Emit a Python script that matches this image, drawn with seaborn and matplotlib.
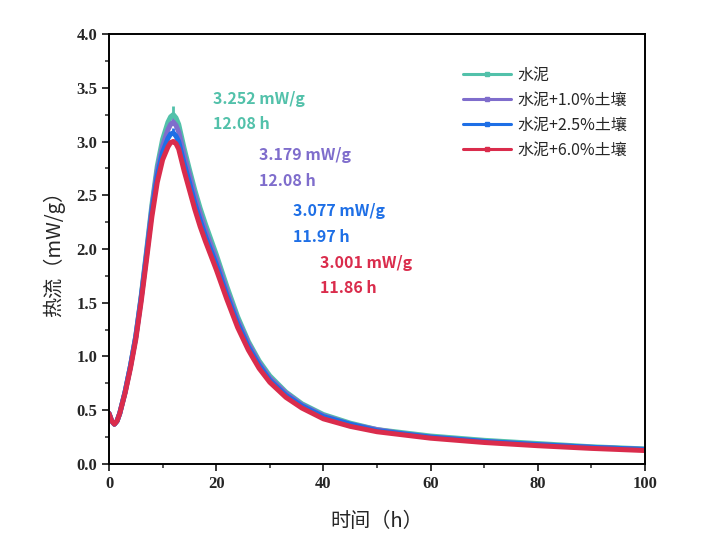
import numpy as np
import pandas as pd
import matplotlib
matplotlib.use("Agg")
import matplotlib.pyplot as plt
from matplotlib.lines import Line2D
from matplotlib.ticker import MultipleLocator
import seaborn as sns

# Données (temps en h, flux de chaleur en mW/g)
time_h = [0, 0.5, 1, 1.5, 2, 3, 4, 5, 6, 7, 8, 9, 10, 11, 11.5, 12, 12.5, 13, 14, 15, 16, 17, 18, 19, 20,
          22, 24, 26, 28, 30, 33, 36, 40, 45, 50, 55, 60, 70, 80, 90, 100]

flow_cement = [0.47, 0.40, 0.37, 0.40, 0.47, 0.67, 0.91, 1.19, 1.56, 1.98, 2.41, 2.77, 3.02, 3.18, 3.23, 3.25,
               3.22, 3.16, 2.94, 2.74, 2.55, 2.38, 2.23, 2.09, 1.95, 1.65, 1.37, 1.14, 0.96, 0.82, 0.67, 0.56,
               0.46, 0.38, 0.32, 0.29, 0.26, 0.22, 0.19, 0.16, 0.14]
flow_soil10 = [0.47, 0.40, 0.37, 0.40, 0.47, 0.67, 0.91, 1.19, 1.55, 1.96, 2.38, 2.73, 2.96, 3.11, 3.16, 3.18,
               3.15, 3.09, 2.88, 2.69, 2.50, 2.33, 2.18, 2.04, 1.91, 1.61, 1.34, 1.12, 0.94, 0.80, 0.66, 0.55,
               0.45, 0.37, 0.32, 0.28, 0.25, 0.21, 0.18, 0.155, 0.135]
flow_soil25 = [0.47, 0.40, 0.37, 0.40, 0.47, 0.67, 0.91, 1.18, 1.54, 1.94, 2.35, 2.68, 2.90, 3.03, 3.07, 3.08,
               3.05, 3.00, 2.80, 2.62, 2.43, 2.27, 2.12, 1.99, 1.86, 1.57, 1.31, 1.09, 0.92, 0.78, 0.64, 0.54,
               0.44, 0.37, 0.31, 0.28, 0.25, 0.21, 0.18, 0.155, 0.135]
flow_soil60 = [0.47, 0.40, 0.37, 0.40, 0.47, 0.66, 0.89, 1.16, 1.51, 1.90, 2.30, 2.62, 2.83, 2.95, 2.99, 3.00,
               2.98, 2.93, 2.73, 2.55, 2.37, 2.21, 2.07, 1.94, 1.81, 1.53, 1.27, 1.06, 0.89, 0.76, 0.62, 0.52,
               0.42, 0.35, 0.30, 0.27, 0.24, 0.20, 0.17, 0.145, 0.125]

labels = ["水泥", "水泥+1.0%土壤", "水泥+2.5%土壤", "水泥+6.0%土壤"]
colors = ["#52C1AA", "#7F6DCC", "#1E6FE6", "#DA2C4C"]
peak_values = ["3.252 mW/g", "3.179 mW/g", "3.077 mW/g", "3.001 mW/g"]
peak_times = ["12.08 h", "12.08 h", "11.97 h", "11.86 h"]
peak_y = [3.25, 3.18, 3.08, 3.00]
peak_err = [0.08, 0.05, 0.05, 0.02]

# Tableau long pour seaborn
series = [flow_cement, flow_soil10, flow_soil25, flow_soil60]
df = pd.concat([pd.DataFrame({"t": time_h, "q": s, "groupe": lab}) for s, lab in zip(series, labels)])

sns.set_style("ticks")
plt.rcParams["font.family"] = ["Noto Sans CJK SC", "DejaVu Sans"]

fig = plt.figure(figsize=(7.06, 5.54), dpi=100)
ax = fig.add_axes([0.1544, 0.1625, 0.7592, 0.7761])

sns.lineplot(data=df, x="t", y="q", hue="groupe", palette=colors, hue_order=labels,
             linewidth=3.6, legend=False, ax=ax, sort=False)

# Barres d'erreur au pic
for i in range(4):
    ax.errorbar([12], [peak_y[i]], yerr=[[0], [peak_err[i]]], color=colors[i],
                elinewidth=2, capsize=0, fmt="none", zorder=1)

# Annotations des pics
ann_x = [19.4, 27.9, 34.4, 39.4]
ann_y = [3.40, 2.87, 2.35, 1.87]
for i in range(4):
    ax.text(ann_x[i], ann_y[i], peak_values[i], color=colors[i], fontsize=11.5,
            fontweight="bold", va="center", ha="left")
    ax.text(ann_x[i], ann_y[i] - 0.235, peak_times[i], color=colors[i], fontsize=11.5,
            fontweight="bold", va="center", ha="left")

ax.set_xlim(0, 100)
ax.set_ylim(0, 4.0)
ax.xaxis.set_major_locator(MultipleLocator(20))
ax.xaxis.set_minor_locator(MultipleLocator(10))
ax.yaxis.set_major_locator(MultipleLocator(0.5))
ax.yaxis.set_minor_locator(MultipleLocator(0.25))
ax.set_yticks(np.arange(0, 4.01, 0.5))
ax.set_yticklabels([f"{v:.1f}" for v in np.arange(0, 4.01, 0.5)])

ax.tick_params(which="major", direction="out", length=5, width=1.3, top=False, right=False)
ax.tick_params(which="minor", direction="out", length=3, width=1.1, top=False, right=False)
for lab in ax.get_xticklabels() + ax.get_yticklabels():
    lab.set_fontfamily("Liberation Serif")
    lab.set_fontweight("bold")
    lab.set_fontsize(12)
for sp in ax.spines.values():
    sp.set_linewidth(1.4)
    sp.set_color("black")

ax.set_xlabel("时间（h）", fontsize=14.5, labelpad=14)
ax.set_ylabel("热流（mW/g）", fontsize=14.5, labelpad=8)

handles = [Line2D([0], [0], color=c, lw=2.2, marker="s", markersize=2.5) for c in colors]
ax.legend(handles, labels, loc="upper right", bbox_to_anchor=(0.993, 0.957), frameon=False,
          fontsize=11.5, handlelength=3.0, handletextpad=0.4, labelspacing=0.5)

plt.savefig("out.png", dpi=100)
